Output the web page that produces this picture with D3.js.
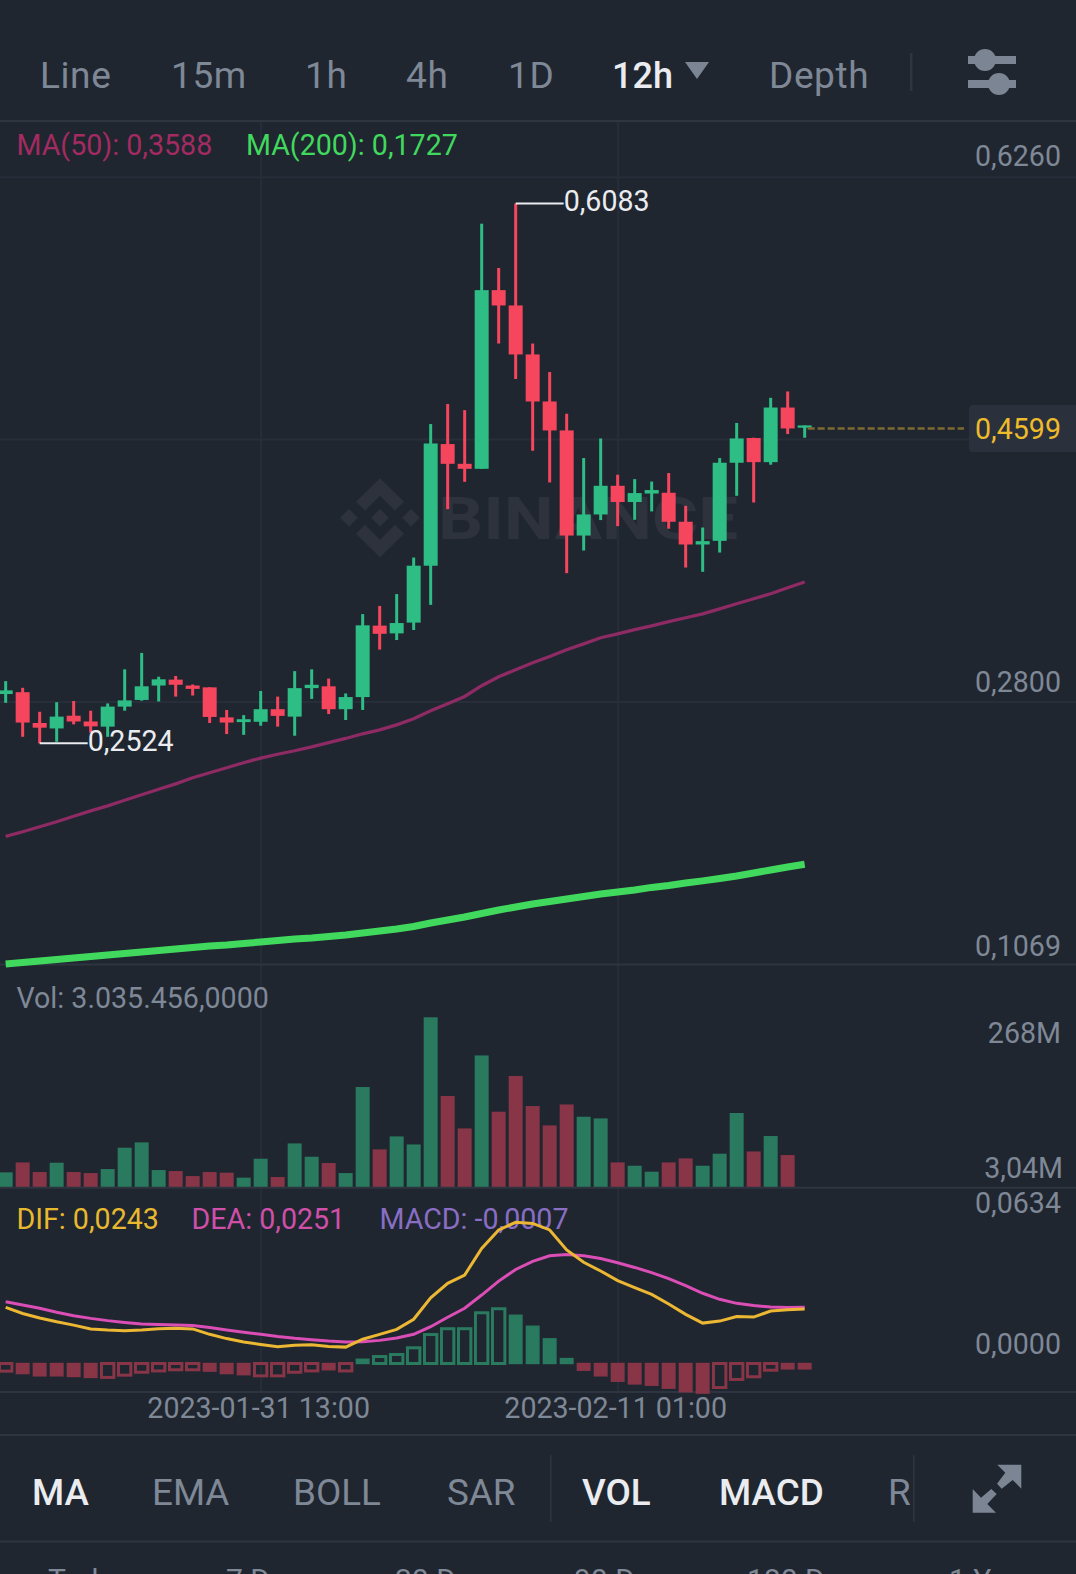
<!DOCTYPE html>
<html><head><meta charset="utf-8">
<script src="https://cdn.jsdelivr.net/npm/d3@7"></script>
<style>
html,body{margin:0;padding:0;background:#1f2630;overflow:hidden}
svg{display:block}
text{font-family:Roboto,"Noto Sans",sans-serif}
.axis path{display:none}
</style></head><body>
<svg id="c" width="1076" height="1574"></svg>
<script>
const candleOpen=[.2849,.2861,.2658,.2622,.2706,.2668,.2634,.2766,.2810,.2905,.2944,.2905,.2893,.2695,.2664,.2666,.2749,.2700,.2888,.2900,.2749,.2829,.3300,.3249,.3320,.3695,.4497,.4367,.4334,.5512,.5411,.5088,.4778,.4587,.3894,.4033,.4222,.4115,.4171,.4176,.3985,.3835,.3859,.4374,.4537,.4378,.4738,.4605];
const candleClose=[.2873,.2661,.2627,.2700,.2668,.2636,.2766,.2807,.2900,.2946,.2910,.2883,.2698,.2661,.2683,.2749,.2705,.2888,.2910,.2749,.2829,.3302,.3246,.3317,.3695,.4501,.4367,.4334,.5512,.5411,.5088,.4778,.4587,.3894,.4033,.4222,.4115,.4174,.4194,.3985,.3835,.3857,.4374,.4534,.4378,.4738,.4600,.4620];
const candleHigh=[.2934,.2890,.2732,.2795,.2803,.2739,.2787,.3012,.3120,.2963,.2968,.2912,.2893,.2744,.2710,.2869,.2832,.3000,.3012,.2951,.2853,.3376,.3430,.3508,.3749,.4629,.4761,.4721,.5950,.5658,.6083,.5160,.4972,.4697,.4405,.4534,.4295,.4266,.4250,.4306,.4090,.3947,.4405,.4636,.4539,.4802,.4844,.4620];
const candleLow=[.2791,.2567,.2524,.2534,.2649,.2594,.2567,.2739,.2805,.2800,.2832,.2839,.2658,.2585,.2580,.2640,.2634,.2574,.2817,.2717,.2678,.2744,.3142,.3205,.3271,.3437,.4068,.4248,.4334,.5160,.4926,.4453,.4244,.3646,.3795,.3996,.3956,.3998,.4053,.3939,.3683,.3655,.3782,.4156,.4112,.4361,.4563,.4539];
const ma50=[.1910,.1941,.1974,.2007,.2043,.2079,.2112,.2149,.2185,.2221,.2257,.2297,.2330,.2363,.2396,.2427,.2452,.2475,.2501,.2528,.2556,.2587,.2613,.2646,.2686,.2739,.2785,.2833,.2904,.2963,.3009,.3055,.3097,.3141,.3180,.3220,.3246,.3273,.3299,.3326,.3352,.3378,.3411,.3444,.3477,.3510,.3550,.3588];
const ma200=[.1069,.1079,.1089,.1099,.1109,.1118,.1128,.1138,.1148,.1158,.1168,.1178,.1188,.1194,.1204,.1214,.1224,.1234,.1240,.1250,.1260,.1273,.1287,.1300,.1316,.1339,.1359,.1379,.1402,.1425,.1445,.1465,.1481,.1498,.1514,.1531,.1544,.1557,.1574,.1587,.1603,.1617,.1633,.1649,.1669,.1689,.1709,.1727];
const volume=[26.9,42.4,27.4,41.9,27.4,25.8,32,65.2,73.5,30.5,28.9,21.1,27.4,26.4,18.6,48.1,19.6,71.9,51.2,41.4,25.8,159.6,62.6,82.8,70.3,268,145.6,95.2,208.7,121.2,176.7,130,99.9,132.5,113.4,110.8,42.4,37.2,27.9,42.4,48.6,37.2,55.9,119.2,59.4,83.4,53.8,3.04];
const dif=[.0250,.0223,.0203,.0186,.0171,.0154,.0149,.0146,.0149,.0155,.0157,.0154,.0130,.0111,.0096,.0085,.0075,.0081,.0084,.0076,.0073,.0108,.0130,.0152,.0197,.0293,.0357,.0394,.0513,.0595,.0629,.0624,.0595,.0506,.0451,.0412,.0369,.0338,.0308,.0265,.0219,.0180,.0189,.0209,.0207,.0234,.0240,.0243];
const dea=[.0275,.0261,.0246,.0228,.0213,.0201,.0191,.0183,.0176,.0174,.0171,.0169,.0160,.0149,.0139,.0130,.0120,.0112,.0106,.0100,.0096,.0097,.0103,.0114,.0130,.0164,.0206,.0246,.0305,.0367,.0419,.0455,.0480,.0486,.0480,.0468,.0449,.0428,.0405,.0378,.0347,.0313,.0286,.0268,.0258,.0252,.0249,.0251];
const macdHist=[-.0034,-.0045,-.0055,-.0055,-.0058,-.0062,-.0062,-.0052,-.0039,-.0033,-.0028,-.0028,-.0034,-.0045,-.0050,-.0055,-.0055,-.0039,-.0033,-.0028,-.0033,.0019,.0031,.0040,.0070,.0129,.0155,.0155,.0226,.0244,.0215,.0166,.0110,.0022,-.0030,-.0055,-.0079,-.0091,-.0097,-.0110,-.0126,-.0132,-.0107,-.0071,-.0059,-.0030,-.0024,-.0024];
const macdHollow=[1,0,0,0,0,0,1,1,1,1,1,1,0,0,0,1,1,1,1,0,1,0,1,1,1,1,1,1,1,1,0,0,0,0,0,0,0,0,0,0,0,0,1,1,1,1,0,0];
const topTabs=["Line","15m","1h","4h","1D","12h","Depth"];
const topTabX=[40,171,305,406,508,612,769];
const indicatorTabs=["MA","EMA","BOLL","SAR","VOL","MACD","R"];
const indicatorTabX=[32,152,293,447,582,719,888];
const indicatorActive=[1,0,0,0,1,1,0];
const rangeTabs=["Today","7 D","30 D","90 D","180 D","1 Y"];
const rangeTabX=[48,226,395,574,747,949];
const priceTicks=[.6260,.4530,.2800,.1069];
const priceTickLabels=["0,6260","","0,2800","0,1069"];
const volTicks=[268,3.04];
const volTickLabels=["268M","3,04M"];
const macdTicks=[.0634,0];
const macdTickLabels=["0,0634","0,0000"];
const dateTicks=[15,36];
const dateTickLabels=["2023-01-31 13:00","2023-02-11 01:00"];
const lastPrice=.4599, highLabel=.6083, lowLabel=.2524, highIndex=30, lowIndex=2;

const BG="#1f2630",GRID="#272e39",SEP="#2e3541",MUTED="#7f8896",ICON="#7b8594",
 UP="#2ebd85",DOWN="#f6465d",UPD="#297a5e",DOWND="#883548",ACTIVE="#eaecef",FS=28.6;
const svg=d3.select("#c");
svg.append("rect").attr("width",1076).attr("height",1574).attr("fill",BG);
const x=d3.scaleLinear().domain([0,47]).range([5.67,804.67]);
const yP=d3.scaleLinear().domain([.1069,.6260]).range([964,176.7]);
const yV=d3.scaleLinear().domain([3.04,268]).range([1187.7,1017.3]);
const yM=d3.scaleLinear().domain([0,.0634]).range([1363.5,1221.2]);
const N=d3.range(48);

// vertical grid + date axis
const gx=svg.append("g").attr("class","axis").attr("transform","translate(0,1392)")
 .call(d3.axisBottom(x).tickValues(dateTicks).tickSize(-1270).tickFormat((d,i)=>dateTickLabels[i]));
gx.selectAll("line").attr("stroke",GRID).attr("stroke-width",2);
gx.selectAll("text").attr("x",-2.5).attr("y",16).attr("dy",".35em").attr("fill",MUTED).attr("font-size",FS);

// price axis
const gp=svg.append("g").attr("class","axis").attr("transform","translate(1076,0)")
 .call(d3.axisLeft(yP).tickValues(priceTicks).tickSize(1076).tickFormat((d,i)=>priceTickLabels[i]));
gp.selectAll("line").attr("stroke",(d)=>d===.1069?SEP:GRID).attr("stroke-width",2);
gp.selectAll("text").attr("x",-15).attr("y",(d,i)=>[-21,-21,-19.5,-19][i]).attr("dy",".35em").attr("fill",MUTED).attr("font-size",FS).attr("text-anchor","end");

// watermark
const wm=svg.append("g").attr("transform","translate(380,517.7)").attr("fill","#2d323d");
[[[0,-9],[9,0],[0,9],[-9,0]],
 [[-31,-9],[-22,0],[-31,9],[-40,0]],
 [[31,-9],[40,0],[31,9],[22,0]],
 [[0,-39.5],[24,-16],[15,-7],[0,-22],[-15,-7],[-24,-16]],
 [[0,39.5],[24,16],[15,7],[0,22],[-15,7],[-24,16]]
].forEach(p=>wm.append("polygon").attr("points",p.join(" ")));
svg.append("text").attr("x",438).attr("y",539).attr("font-size",60).attr("font-weight",700).attr("fill","#2d323d")
 .attr("textLength",300).attr("lengthAdjust","spacingAndGlyphs").text("BINANCE");

// candles
const col=i=>candleClose[i]>=candleOpen[i]?UP:DOWN;
svg.append("g").selectAll("line").data(N).join("line")
 .attr("x1",x).attr("x2",x).attr("y1",i=>yP(candleHigh[i])).attr("y2",i=>yP(candleLow[i]))
 .attr("stroke",col).attr("stroke-width",3);
svg.append("g").selectAll("rect").data(N).join("rect")
 .attr("x",i=>x(i)-7).attr("width",14)
 .attr("y",i=>yP(Math.max(candleOpen[i],candleClose[i])))
 .attr("height",i=>Math.max(2,Math.abs(yP(candleOpen[i])-yP(candleClose[i]))))
 .attr("fill",col);

// MA lines
const lineOf=(arr,y)=>d3.line().x(i=>x(i)).y(i=>y(arr[i]))(N);
svg.append("path").attr("d",lineOf(ma50,yP)).attr("fill","none").attr("stroke","#8e2a64").attr("stroke-width",3.3);
svg.append("path").attr("d",lineOf(ma200,yP)).attr("fill","none").attr("stroke","#41d95d").attr("stroke-width",7);

// hi/lo markers
const mark=(idx,val)=>{
 svg.append("path").attr("d",`M${x(idx)},${yP(val)}H${x(idx)+48}`).attr("stroke","#eaecef").attr("stroke-width",2).attr("fill","none");
 svg.append("text").attr("x",x(idx)+48).attr("y",yP(val)-1).attr("dy",".3em").attr("font-size",FS).attr("fill","#eaecef").text(String(val).replace(".",","));
};
mark(highIndex,highLabel); mark(lowIndex,lowLabel);

// last price
svg.append("line").attr("x1",x(47)+3).attr("x2",964).attr("y1",yP(lastPrice)).attr("y2",yP(lastPrice))
 .attr("stroke","#7d6a32").attr("stroke-width",2.5).attr("stroke-dasharray","7 3");
svg.append("rect").attr("x",969).attr("y",405).attr("width",120).attr("height",47).attr("rx",4).attr("fill","#2a303c");
svg.append("text").attr("x",1061).attr("y",yP(lastPrice)).attr("dy",".35em").attr("text-anchor","end").attr("font-size",FS).attr("fill","#eebb2b").text(String(lastPrice).replace(".",","));

// legends
const legend=(xp,yc,t,c)=>svg.append("text").attr("x",xp).attr("y",yc).attr("dy",".35em").attr("font-size",FS).attr("fill",c).text(t);
legend(16.5,145,"MA(50): 0,3588","#a32b61");
legend(246,145,"MA(200): 0,1727","#41d95d");
legend(16.5,998,"Vol: 3.035.456,0000",MUTED);
legend(16.5,1219,"DIF: 0,0243","#e8b92e");
legend(191.5,1219,"DEA: 0,0251","#cf4fa9");
legend(379.5,1219,"MACD: -0,0007","#8a6ec4");

// volume
svg.append("g").selectAll("rect").data(N).join("rect")
 .attr("x",i=>x(i)-7).attr("width",14).attr("y",i=>yV(volume[i])).attr("height",i=>yV(3.04)-yV(volume[i]))
 .attr("fill",i=>col(i)===UP?UPD:DOWND);
const gv=svg.append("g").attr("class","axis").attr("transform","translate(1076,0)")
 .call(d3.axisLeft(yV).tickValues(volTicks).tickSize(0).tickFormat((d,i)=>volTickLabels[i]));
gv.selectAll("text").attr("x",(d,i)=>i?-13:-15).attr("y",(d,i)=>i?-20:15).attr("dy",".35em").attr("fill",MUTED).attr("font-size",FS).attr("text-anchor","end");

// panel separators
[1187.7,1392].forEach(v=>svg.append("line").attr("x1",0).attr("x2",1076).attr("y1",v).attr("y2",v).attr("stroke",SEP).attr("stroke-width",2));

// MACD histogram
svg.append("g").selectAll("rect").data(N).join("rect")
 .attr("x",i=>x(i)-(macdHollow[i]?6.2:6.3)).attr("width",i=>macdHollow[i]?12.4:12.6)
 .attr("y",i=>Math.min(yM(macdHist[i]),yM(0)))
 .attr("height",i=>Math.abs(yM(macdHist[i])-yM(0)))
 .attr("fill",i=>macdHollow[i]?"none":(macdHist[i]>0?UPD:DOWND))
 .attr("stroke",i=>macdHist[i]>0?UPD:DOWND).attr("stroke-width",i=>macdHollow[i]?3:1.4);
const gm=svg.append("g").attr("class","axis").attr("transform","translate(1076,0)")
 .call(d3.axisLeft(yM).tickValues(macdTicks).tickSize(0).tickFormat((d,i)=>macdTickLabels[i]));
gm.selectAll("text").attr("x",-15).attr("y",(d,i)=>i?-20:-19).attr("dy",".35em").attr("fill",MUTED).attr("font-size",FS).attr("text-anchor","end");
svg.append("path").attr("d",lineOf(dea,yM)).attr("fill","none").attr("stroke","#db4eb6").attr("stroke-width",3);
svg.append("path").attr("d",lineOf(dif,yM)).attr("fill","none").attr("stroke","#ecb733").attr("stroke-width",3);

// top bar
svg.append("line").attr("x1",0).attr("x2",1076).attr("y1",121).attr("y2",121).attr("stroke",SEP).attr("stroke-width",2);
topTabs.forEach((t,i)=>{const on=t==="12h";
 svg.append("text").attr("x",topTabX[i]).attr("y",88).attr("font-size",on?36:37)
 .attr("letter-spacing",on?0:.6).attr("font-weight",on?500:400).attr("fill",on?ACTIVE:MUTED).text(t);});
svg.append("polygon").attr("points","685,62 709,62 697,79").attr("fill",ICON);
svg.append("rect").attr("x",910).attr("y",53).attr("width",2.5).attr("height",38).attr("fill",SEP);
svg.append("rect").attr("x",968).attr("y",56).attr("width",48).attr("height",8).attr("fill",ICON);
svg.append("rect").attr("x",968).attr("y",80).attr("width",48).attr("height",8).attr("fill",ICON);
svg.append("circle").attr("cx",985).attr("cy",60).attr("r",11).attr("fill",ICON);
svg.append("circle").attr("cx",999).attr("cy",84).attr("r",11).attr("fill",ICON);

// bottom bar
[1435,1541.5].forEach(v=>svg.append("line").attr("x1",0).attr("x2",1076).attr("y1",v).attr("y2",v).attr("stroke",SEP).attr("stroke-width",2));
svg.append("clipPath").attr("id","tabclip").append("rect").attr("x",0).attr("y",1440).attr("width",912).attr("height",100);
const tabs=svg.append("g").attr("clip-path","url(#tabclip)");
indicatorTabs.forEach((t,i)=>tabs.append("text").attr("x",indicatorTabX[i]).attr("y",1505).attr("font-size",36.8)
 .attr("font-weight",indicatorActive[i]?500:400).attr("fill",indicatorActive[i]?ACTIVE:MUTED).text(t));
[550,913].forEach(v=>svg.append("rect").attr("x",v).attr("y",1455).attr("width",1.5).attr("height",67).attr("fill",SEP));
svg.append("polygon").attr("points","997.3,1464.7 1021.3,1464.7 1021.3,1488.7 1012.7,1480 1001.7,1488.7 997,1483.7 1005.3,1472.7").attr("fill",ICON);
svg.append("polygon").attr("points","972.7,1489 972.7,1512.7 996,1512.7 987.3,1504 996.7,1494 991.3,1489 981,1497.7").attr("fill",ICON);
rangeTabs.forEach((t,i)=>svg.append("text").attr("x",rangeTabX[i]).attr("y",1590).attr("font-size",30).attr("fill",MUTED).text(t));
</script>
</body></html>
